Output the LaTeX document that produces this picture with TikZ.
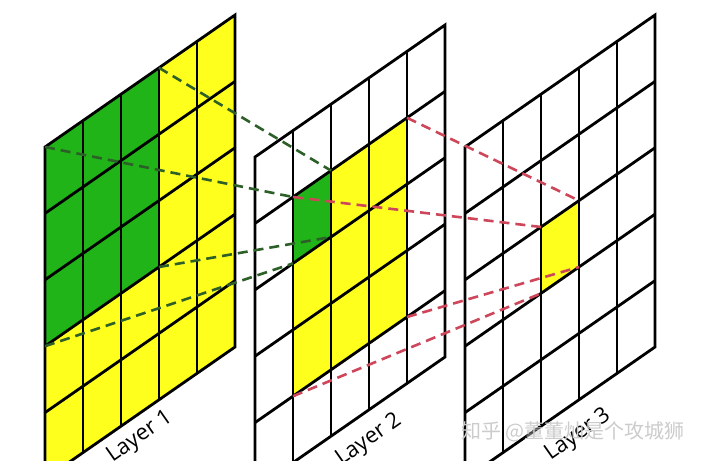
\documentclass[tikz,border=0pt]{standalone}
\usepackage{fontspec}
\setmainfont{Open Sans}
\newfontfamily\cjk{Noto Sans CJK SC}
\usetikzlibrary{positioning}

\definecolor{cellgreen}{RGB}{32,180,24}
\definecolor{cellyellow}{RGB}{255,255,30}
\definecolor{linkgreen}{RGB}{45,95,40}
\definecolor{linkred}{RGB}{205,70,90}

\begin{document}
\begin{tikzpicture}[x=1pt, y=-1pt,
    layer/.style={x={(38pt,26.4pt)}, y={(0pt,-66.4pt)}},
    gridline/.style={line width=2.8pt, line join=miter},
    link/.style={line width=2.6pt, dash pattern=on 10pt off 6pt},
    greenlink/.style={link, draw=linkgreen},
    redlink/.style={link, draw=linkred},
    lbl/.style={font=\fontsize{22}{26}\selectfont, rotate=35, inner sep=0pt},
    wmark/.style={font=\cjk\fontsize{20}{24}\selectfont, text=gray!40, inner sep=0pt}
]
\clip (0,0) rectangle (705,461);
\fill[white] (0,0) rectangle (705,461);

% layer 1
\begin{scope}[shift={(45pt,-147pt)}, layer]
  \fill[cellyellow] (0,0) -- (5,0) -- (5,5) -- (0,5) -- cycle;
  \fill[cellgreen] (0,0) -- (3,0) -- (3,3) -- (0,3) -- cycle;
  \foreach \i in {1,...,4} {
    \draw[gridline] (\i,0) -- (\i,5);
    \draw[gridline] (0,\i) -- (5,\i);
  }
  \draw[gridline] (0,0) -- (5,0) -- (5,5) -- (0,5) -- cycle;
  \coordinate (l1a) at (0,0);
  \coordinate (l1b) at (3,0);
  \coordinate (l1c) at (0,3);
  \coordinate (l1d) at (3,3);
\end{scope}

% layer 2
\begin{scope}[shift={(255pt,-157pt)}, layer]
  \fill[white] (0,0) -- (5,0) -- (5,5) -- (0,5) -- cycle;
  \fill[cellyellow] (1,1) -- (4,1) -- (4,4) -- (1,4) -- cycle;
  \fill[cellgreen] (1,1) -- (2,1) -- (2,2) -- (1,2) -- cycle;
  \foreach \i in {1,...,4} {
    \draw[gridline] (\i,0) -- (\i,5);
    \draw[gridline] (0,\i) -- (5,\i);
  }
  \draw[gridline] (0,0) -- (5,0) -- (5,5) -- (0,5) -- cycle;
  \coordinate (l2a) at (1,1);
  \coordinate (l2b) at (2,1);
  \coordinate (l2c) at (1,2);
  \coordinate (l2d) at (2,2);
  \coordinate (l2e) at (4,1);
  \coordinate (l2f) at (1,4);
  \coordinate (l2g) at (4,4);
\end{scope}

% layer 3
\begin{scope}[shift={(465pt,-147pt)}, layer]
  \fill[white] (0,0) -- (5,0) -- (5,5) -- (0,5) -- cycle;
  \fill[cellyellow] (2,2) -- (3,2) -- (3,3) -- (2,3) -- cycle;
  \foreach \i in {1,...,4} {
    \draw[gridline] (\i,0) -- (\i,5);
    \draw[gridline] (0,\i) -- (5,\i);
  }
  \draw[gridline] (0,0) -- (5,0) -- (5,5) -- (0,5) -- cycle;
  \coordinate (l3a) at (2,2);
  \coordinate (l3b) at (3,2);
  \coordinate (l3c) at (2,3);
  \coordinate (l3d) at (3,3);
\end{scope}

% receptive field links
\draw[greenlink] (l1a) -- (l2a);
\draw[greenlink] (l1b) -- (l2b);
\draw[greenlink] (l1c) -- (l2c);
\draw[greenlink] (l1d) -- (l2d);
\draw[redlink] (l2a) -- (l3a);
\draw[redlink] (l2e) -- (l3b);
\draw[redlink] (l2f) -- (l3c);
\draw[redlink] (l2g) -- (l3d);

\node[lbl] (lab1) at (140,437) {Layer 1};
\node[lbl] (lab2) at (369,440) {Layer 2};
\node[lbl] (lab3) at (578,435) {Layer 3};
\node[wmark] (wm) at (573,432) {知乎 @董董灿是个攻城狮};
\end{tikzpicture}
\end{document}
